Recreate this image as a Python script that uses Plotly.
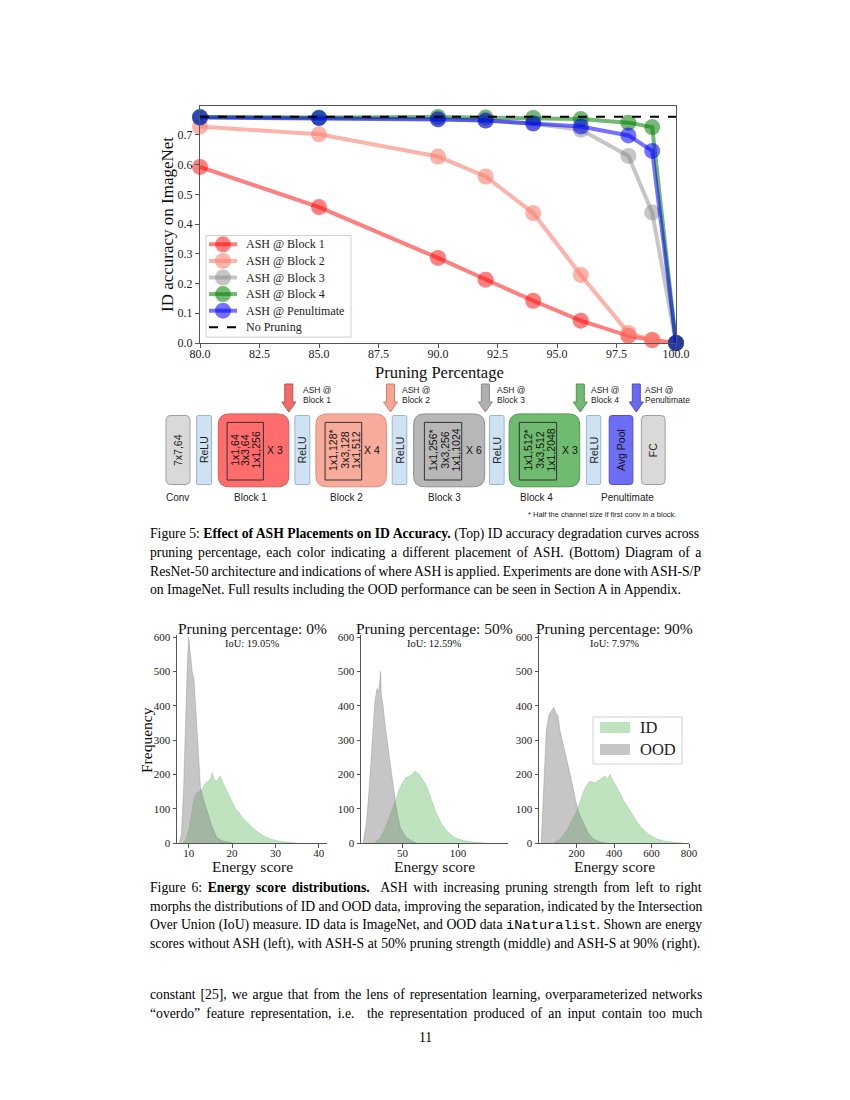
import re
import plotly.graph_objects as go

W, H = 850, 1100
OFF = 8  # the page body adds an 8px margin around the figure


def px(x):
    return (x - OFF) / W


def py(y):
    return 1 - (y - OFF) / H


# ---------------- data: Figure 5 (top) ----------------
pruning_pct = [80, 85, 90, 92, 94, 96, 98, 99, 100]
acc_block1 = [0.592, 0.457, 0.286, 0.213, 0.142, 0.075, 0.024, 0.010, 0.0]
acc_block2 = [0.728, 0.702, 0.627, 0.560, 0.437, 0.229, 0.034, 0.010, 0.0]
acc_block3 = [0.760, 0.757, 0.753, 0.748, 0.737, 0.717, 0.629, 0.439, 0.0]
acc_block4 = [0.760, 0.758, 0.760, 0.758, 0.757, 0.753, 0.741, 0.726, 0.0]
acc_penult = [0.758, 0.756, 0.752, 0.748, 0.739, 0.728, 0.698, 0.646, 0.0]
acc_no_pruning = 0.761
series_names = ["ASH @ Block 1", "ASH @ Block 2", "ASH @ Block 3", "ASH @ Block 4", "ASH @ Penultimate"]

# ---------------- data: Figure 6 (histograms) ----------------
# 0% pruning
h0_ood_x = [7.8, 8.3, 8.8, 9.3, 9.7, 10.0, 10.4, 10.8, 11.2, 11.6, 12.0, 12.4, 12.7, 13.2, 13.9, 14.6, 15.4, 16.5, 18.0, 20.4]
h0_ood_y = [0, 25, 150, 380, 530, 600, 545, 500, 480, 400, 300, 210, 165, 135, 105, 75, 47, 15, 5, 0]
h0_id_x = [8.8, 9.5, 10.2, 10.8, 11.2, 11.8, 12.4, 13.0, 13.9, 14.6, 15.0, 15.4, 15.9, 16.5, 17.3, 17.9, 18.5,
           19.2, 20.0, 20.8, 21.5, 22.3, 23.1, 24.2, 25.3, 26.5, 27.6, 28.8, 30.0, 31.1, 32.3, 33.4, 35.0]
h0_id_y = [0, 15, 50, 100, 130, 145, 150, 155, 175, 180, 185, 205, 185, 180, 195, 175, 160,
           140, 118, 100, 90, 75, 65, 50, 38, 27, 18, 12, 8, 5, 3, 1, 0]
# 50% pruning
h50_ood_x = [14.5, 17.5, 20, 23, 25, 27, 28.5, 29.5, 30.2, 31, 32.5, 34.5, 36.5, 38.5, 40.5, 42.5, 44, 46, 48, 51, 54, 58, 63]
h50_ood_y = [0, 60, 160, 320, 410, 450, 440, 470, 500, 430, 400, 340, 290, 240, 190, 140, 110, 75, 45, 28, 15, 6, 0]
h50_id_x = [25, 30, 34, 37, 40, 42, 44.5, 47, 50, 53, 56, 59, 61, 63, 65, 68, 71, 74, 77, 80, 83, 86, 90, 95, 100, 107, 116, 125]
h50_id_y = [0, 15, 40, 65, 90, 110, 130, 155, 175, 190, 195, 200, 210, 205, 200, 185, 170, 145, 115, 90, 70, 52, 35, 20, 12, 6, 2, 0]
# 90% pruning
h90_ood_x = [12, 22, 30, 39, 54, 66, 79, 89, 102, 111, 129, 146, 164, 182, 200, 218, 236, 262, 289, 325, 361]
h90_ood_y = [0, 120, 240, 330, 375, 385, 395, 380, 370, 330, 290, 245, 205, 160, 112, 80, 58, 30, 12, 3, 0]
h90_id_x = [75, 111, 146, 173, 200, 218, 236, 254, 271, 298, 325, 352, 366, 379, 396, 423, 450, 477, 504, 530, 557,
            593, 629, 664, 718, 771]
h90_id_y = [0, 10, 35, 65, 92, 118, 148, 168, 180, 175, 185, 195, 185, 200, 180, 155, 125, 100, 75, 55, 38,
            22, 12, 6, 2, 0]
hist_titles = ["Pruning percentage: 0%", "Pruning percentage: 50%", "Pruning percentage: 90%"]
hist_iou = ["IoU: 19.05%", "IoU: 12.59%", "IoU: 7.97%"]

SERIF = "Liberation Serif, Times New Roman, serif"
SANS = "Liberation Sans, Arial, sans-serif"
MONO = "Liberation Mono, monospace"

fig = go.Figure()
shapes = []
annotations = []


def text(x, y, s, size, family=SERIF, color="#111", angle=0, xanchor="center", yanchor="middle"):
    annotations.append(dict(x=px(x), y=py(y), xref="paper", yref="paper", text=s, showarrow=False,
                            font=dict(family=family, size=size, color=color), textangle=angle,
                            xanchor=xanchor, yanchor=yanchor))


# ---------------- top line chart ----------------
line_styles = [
    ("255,0,0", 0.5),
    ("250,128,114", 0.6),
    ("128,128,128", 0.45),
    ("0,128,0", 0.55),
    ("0,0,255", 0.55),
]
all_series = [acc_block1, acc_block2, acc_block3, acc_block4, acc_penult]
for name, ys, (rgb, a) in zip(series_names, all_series, line_styles):
    fig.add_trace(go.Scatter(
        x=pruning_pct, y=ys, name=name, mode="lines+markers",
        line=dict(color=f"rgba({rgb},{a})", width=4),
        marker=dict(color=f"rgba({rgb},{a})", size=16, line=dict(width=0)),
        cliponaxis=False, xaxis="x", yaxis="y", showlegend=False,
    ))
fig.add_trace(go.Scatter(
    x=[pruning_pct[0], pruning_pct[-1]], y=[acc_no_pruning, acc_no_pruning], name="No Pruning",
    mode="lines", line=dict(color="black", width=2, dash="dash"), xaxis="x", yaxis="y", showlegend=False,
))

# legend of the top chart (matplotlib-style box)
LG_X0, LG_X1, LG_Y0 = 206, 351, 235.5
ROW = 16.6
shapes.append(dict(type="rect", xref="paper", yref="paper", x0=px(LG_X0), x1=px(LG_X1),
                   y0=py(LG_Y0 + 6 * ROW + 2), y1=py(LG_Y0), fillcolor="rgba(255,255,255,0.85)",
                   line=dict(color="#d0d0d0", width=1), layer="above"))
for k, (name, (rgb, a)) in enumerate(zip(series_names, line_styles)):
    yc = LG_Y0 + 8.8 + k * ROW
    col = f"rgba({rgb},{a})"
    shapes.append(dict(type="line", xref="paper", yref="paper", x0=px(209), x1=px(237), y0=py(yc), y1=py(yc),
                       line=dict(color=col, width=4), layer="above"))
    shapes.append(dict(type="circle", xref="paper", yref="paper", x0=px(215), x1=px(231), y0=py(yc + 8),
                       y1=py(yc - 8), fillcolor=col, line=dict(width=0), layer="above"))
    text(244, yc, name, 12, SERIF, "#222", xanchor="left")
yc = LG_Y0 + 8.8 + 5 * ROW
shapes.append(dict(type="line", xref="paper", yref="paper", x0=px(209), x1=px(237), y0=py(yc), y1=py(yc),
                   line=dict(color="black", width=2, dash="dash"), layer="above"))
text(244, yc, "No Pruning", 12, SERIF, "#222", xanchor="left")

# ---------------- histograms ----------------
gray_fill = "rgba(128,128,128,0.45)"
green_fill = "rgba(44,160,44,0.3)"
hist_sets = [
    (h0_ood_x, h0_ood_y, h0_id_x, h0_id_y),
    (h50_ood_x, h50_ood_y, h50_id_x, h50_id_y),
    (h90_ood_x, h90_ood_y, h90_id_x, h90_id_y),
]
for i, (ox, oy, ix, iy) in enumerate(hist_sets):
    xa = f"x{i + 2}"
    ya = f"y{i + 2}"
    fig.add_trace(go.Scatter(x=ix, y=iy, name="ID", mode="lines", fill="tozeroy",
                             line=dict(width=0.6, color="rgba(44,160,44,0.35)"), fillcolor=green_fill,
                             xaxis=xa, yaxis=ya, showlegend=False))
    fig.add_trace(go.Scatter(x=ox, y=oy, name="OOD", mode="lines", fill="tozeroy",
                             line=dict(width=0.6, color="rgba(100,100,100,0.45)"), fillcolor=gray_fill,
                             xaxis=xa, yaxis=ya, showlegend=False))

# legend of the rightmost histogram
shapes.append(dict(type="rect", xref="paper", yref="paper", x0=px(593), x1=px(682), y0=py(764), y1=py(717),
                   fillcolor="rgba(255,255,255,0.85)", line=dict(color="#d0d0d0", width=1), layer="above"))
for lab, fill, yc in [("ID", green_fill, 727.5), ("OOD", gray_fill, 749.5)]:
    shapes.append(dict(type="rect", xref="paper", yref="paper", x0=px(600), x1=px(630), y0=py(yc + 5.5),
                       y1=py(yc - 5.5), fillcolor=fill, line=dict(width=0), layer="above"))
    text(638, yc, lab, 16.5, SERIF, "#222", xanchor="left")

axis_common = dict(showgrid=False, zeroline=False, showline=True, linecolor="#555", linewidth=1,
                   ticks="outside", ticklen=4, tickcolor="#555", automargin=False,
                   tickfont=dict(family=SERIF, size=12, color="#222"))
hist_axis = dict(axis_common)
hist_axis["tickfont"] = dict(family=SERIF, size=11, color="#222")
hist_axis["ticklen"] = 3.5
yt = [0, 100, 200, 300, 400, 500, 600]

layout = dict(
    width=W, height=H, margin=dict(l=0, r=0, t=0, b=0, pad=0, autoexpand=False),
    paper_bgcolor="white", plot_bgcolor="white", showlegend=False,
    xaxis=dict(domain=[px(200), px(676)], anchor="y", range=[80, 100], dtick=2.5, tick0=80,
               tickformat=".1f", mirror=True, ticklabelstandoff=-4, **axis_common),
    yaxis=dict(domain=[py(343), py(106)], anchor="x", range=[0, 0.797], dtick=0.1, tick0=0,
               tickformat=".1f", mirror=True, **axis_common),
    xaxis2=dict(domain=[px(177), px(327)], anchor="y2", range=[7.3, 41.9], tickvals=[10, 20, 30, 40],
                ticklabelstandoff=-4, **hist_axis),
    yaxis2=dict(domain=[py(843), py(635)], anchor="x2", range=[0, 606], tickvals=yt, **hist_axis),
    xaxis3=dict(domain=[px(361), px(508)], anchor="y3", range=[12.6, 145], tickvals=[50, 100],
                ticklabelstandoff=-4, **hist_axis),
    yaxis3=dict(domain=[py(843), py(635)], anchor="x3", range=[0, 606], tickvals=yt, **hist_axis),
    xaxis4=dict(domain=[px(539), px(689)], anchor="y4", range=[0, 800], tickvals=[200, 400, 600, 800],
                ticklabelstandoff=-4, **hist_axis),
    yaxis4=dict(domain=[py(843), py(635)], anchor="x4", range=[0, 606], tickvals=yt, **hist_axis),
)

# axis titles for the top chart
text(167, 225, "ID accuracy on ImageNet", 17, angle=-90)
text(439, 372, "Pruning Percentage", 16.5)

# histogram titles
hist_centers = [252, 434.5, 614]
for c, t, iou in zip(hist_centers, hist_titles, hist_iou):
    text(c, 628, t, 15.5)
    text(c, 643, iou, 10.5)
    text(c, 866, "Energy score", 15.5)
text(146, 740, "Frequency", 15.5, angle=-90)


# ---------------- ResNet-50 diagram ----------------
def rrect(x0, y0, x1, y1, r, fill, line, lw=1):
    pts = (f"M {px(x0 + r)},{py(y0)} L {px(x1 - r)},{py(y0)} Q {px(x1)},{py(y0)} {px(x1)},{py(y0 + r)} "
           f"L {px(x1)},{py(y1 - r)} Q {px(x1)},{py(y1)} {px(x1 - r)},{py(y1)} "
           f"L {px(x0 + r)},{py(y1)} Q {px(x0)},{py(y1)} {px(x0)},{py(y1 - r)} "
           f"L {px(x0)},{py(y0 + r)} Q {px(x0)},{py(y0)} {px(x0 + r)},{py(y0)} Z")
    shapes.append(dict(type="path", path=pts, xref="paper", yref="paper", fillcolor=fill,
                       line=dict(color=line, width=lw), layer="above"))


def arrow(cx, fill, line):
    pts = (f"M {px(cx - 4)},{py(384)} L {px(cx + 4)},{py(384)} L {px(cx + 4)},{py(402)} "
           f"L {px(cx + 7)},{py(402)} L {px(cx)},{py(412)} L {px(cx - 7)},{py(402)} "
           f"L {px(cx - 4)},{py(402)} Z")
    shapes.append(dict(type="path", path=pts, xref="paper", yref="paper", fillcolor=fill,
                       line=dict(color=line, width=1), layer="above"))


YT, YB = 415.5, 484.5
YC = 450
relu_fill, relu_line = "#cfe2f3", "#9db6cf"
rrect(166, YT, 190, YB, 5, "#d9d9d9", "#a0a0a0")
text(178, YC, "7x7,64", 10.5, SANS, "#222", -90)
for x0, x1 in [(196.6, 211.5), (294.9, 309.8), (392.2, 406.8), (489.5, 504.1), (586.4, 600.7)]:
    rrect(x0, YT, x1, YB, 1.5, relu_fill, relu_line)
    text((x0 + x1) / 2, YC, "ReLU", 10.5, SANS, "#222", -90)

blocks = [
    (218.3, 288.8, 227.1, 263.4, "#ff6d6d", "#d85a5a", ["1x1,64", "3x3,64", "1x1,256"], [234.8, 245.0, 255.6], "X 3", 275.3),
    (315.9, 386.4, 325.1, 361.7, "#f8ab9b", "#e08e7e", ["1x1,128*", "3x3,128", "1x1,512"], [332.9, 344.7, 355.9], "X 4", 371.9),
    (413.6, 484.7, 424.4, 461.7, "#b7b7b7", "#8f8f8f", ["1x1,256*", "3x3,256", "1x1,1024"], [432.9, 444.7, 455.6], "X 6", 473.6),
    (509.2, 579.7, 519.3, 556.6, "#6fbb6f", "#4f9a4f", ["1x1,512*", "3x3,512", "1x1,2048"], [527.8, 539.7, 550.5], "X 3", 570.2),
]
for bx0, bx1, ix0, ix1, fill, line, labels, cols, rep, repx in blocks:
    rrect(bx0, 413.9, bx1, 486.8, 11, fill, line)
    shapes.append(dict(type="rect", xref="paper", yref="paper", x0=px(ix0), x1=px(ix1), y0=py(480), y1=py(422.4),
                       fillcolor="rgba(0,0,0,0)", line=dict(color="#333", width=1), layer="above"))
    for lab, cx in zip(labels, cols):
        text(cx, YC, lab, 10.5, SANS, "#111", -90)
    text(repx, YC, rep, 10.5, SANS, "#111")

rrect(609.2, YT, 632.9, YB, 3, "#6e6ef5", "#4f4fd0")
text(621, YC, "Avg Pool", 10.5, SANS, "#111", -90)
rrect(641.4, YT, 665.1, YB, 4, "#d9d9d9", "#a0a0a0")
text(653.2, YC, "FC", 10.5, SANS, "#222", -90)

arrow_specs = [
    (288.8, "#f06a6a", "#c94c4c", 300.7, "Block 1"),
    (390.5, "#f6a494", "#d0806f", 399.7, "Block 2"),
    (485.4, "#b0b0b0", "#8a8a8a", 494.9, "Block 3"),
    (580.3, "#72b872", "#4f944f", 588.8, "Block 4"),
    (636.3, "#6a6af0", "#4a4ac8", 643.0, "Penultimate"),
]
for cx, fill, line, lx, lab in arrow_specs:
    arrow(cx, fill, line)
    text(lx, 390, "ASH @", 8.5, SANS, "#222", xanchor="left")
    text(lx, 400, lab, 8.5, SANS, "#222", xanchor="left")

for cx, lab in [(177.5, "Conv"), (250, "Block 1"), (346, "Block 2"), (444.7, "Block 3"), (536.3, "Block 4"),
                (627.8, "Penultimate")]:
    text(cx, 497.5, lab, 10, SANS, "#222")
text(602, 514.5, "* Half the channel size if first conv in a block.", 7.5, SANS, "#222")

# ---------------- captions and body text (justified) ----------------
TIMES = dict(zip(" !\"#$%&'()*+,-./0123456789:;<=>?@ABCDEFGHIJKLMNOPQRSTUVWXYZ[\\]^_`abcdefghijklmnopqrstuvwxyz",
                 [250, 333, 408, 500, 500, 833, 778, 180, 333, 333, 500, 564, 250, 333, 250, 278] + [500] * 10 +
                 [278, 278, 564, 564, 564, 444, 921,
                  722, 667, 667, 722, 611, 556, 722, 722, 333, 389, 722, 611, 889, 722, 722, 556, 722, 667, 556,
                  611, 722, 722, 944, 722, 722, 611, 333, 278, 333, 469, 500, 333,
                  444, 500, 444, 500, 444, 333, 500, 500, 278, 278, 500, 278, 778, 500, 500, 500, 500, 333, 389,
                  278, 500, 500, 722, 500, 500, 444]))
TIMES.update({"\u201c": 444, "\u201d": 444})
BOLD = dict(zip(" .ABCDEFGHIJKLMNOPQRSTUVWXYZabcdefghijklmnopqrstuvwxyz",
                [250, 250, 722, 667, 722, 722, 667, 611, 778, 778, 389, 500, 778, 667, 944, 722, 778, 611, 778, 722,
                 556, 667, 722, 722, 1000, 722, 722, 667,
                 500, 556, 444, 556, 444, 333, 500, 556, 278, 333, 556, 278, 833, 556, 500, 556, 556, 444, 389,
                 333, 556, 500, 722, 500, 500, 444]))
CAP_SIZE = 13.7
LEFT, RIGHT = 148, 701


def est_width(markup):
    w = 0.0
    parts = re.split(r"(<b>.*?</b>|<span[^>]*>.*?</span>)", markup)
    for p in parts:
        if p.startswith("<b>"):
            w += sum(BOLD.get(ch, 500) for ch in p[3:-4])
        elif p.startswith("<span"):
            inner = re.sub(r"<[^>]+>", "", p)
            w += 600 * len(inner)
        else:
            w += sum(TIMES.get(ch, 500) for ch in p)
    return w * CAP_SIZE / 1000


def caption_line(s, y, justify=True):
    if justify:
        plain = re.sub(r"<[^>]+>", "", s)
        n_sp = plain.count(" ")
        extra = (RIGHT - LEFT - est_width(s)) / max(n_sp, 1)
        extra = max(-0.9, min(extra, 3.0))
        s = f"<span style='word-spacing:{extra:.2f}px'>{s}</span>"
    text(LEFT, y, s, CAP_SIZE, SERIF, "#000", xanchor="left")


cap5 = [
    "Figure 5: <b>Effect of ASH Placements on ID Accuracy.</b> (Top) ID accuracy degradation curves across",
    "pruning percentage, each color indicating a different placement of ASH. (Bottom) Diagram of a",
    "ResNet-50 architecture and indications of where ASH is applied. Experiments are done with ASH-S/P",
    "on ImageNet. Full results including the OOD performance can be seen in Section A in Appendix.",
]
cap6 = [
    "Figure 6: <b>Energy score distributions.</b>  ASH with increasing pruning strength from left to right",
    "morphs the distributions of ID and OOD data, improving the separation, indicated by the Intersection",
    "Over Union (IoU) measure. ID data is ImageNet, and OOD data "
    f"<span style='font-family:{MONO}'>iNaturalist</span>. Shown are energy",
    "scores without ASH (left), with ASH-S at 50% pruning strength (middle) and ASH-S at 90% (right).",
]
body = [
    "constant [25], we argue that from the lens of representation learning, overparameterized networks",
    "\u201coverdo\u201d feature representation, i.e.  the representation produced of an input contain too much",
]
for k, (s, y) in enumerate(zip(cap5, [534, 552.5, 571, 589.5])):
    caption_line(s, y, justify=k < 3)
for k, (s, y) in enumerate(zip(cap6, [887, 906, 925, 944])):
    caption_line(s, y, justify=True)
for s, y in zip(body, [994, 1013]):
    caption_line(s, y, justify=True)
text(425, 1037, "11", CAP_SIZE, SERIF, "#000")

layout["annotations"] = annotations
layout["shapes"] = shapes
fig.update_layout(**layout)

fig.write_html("out.html")
